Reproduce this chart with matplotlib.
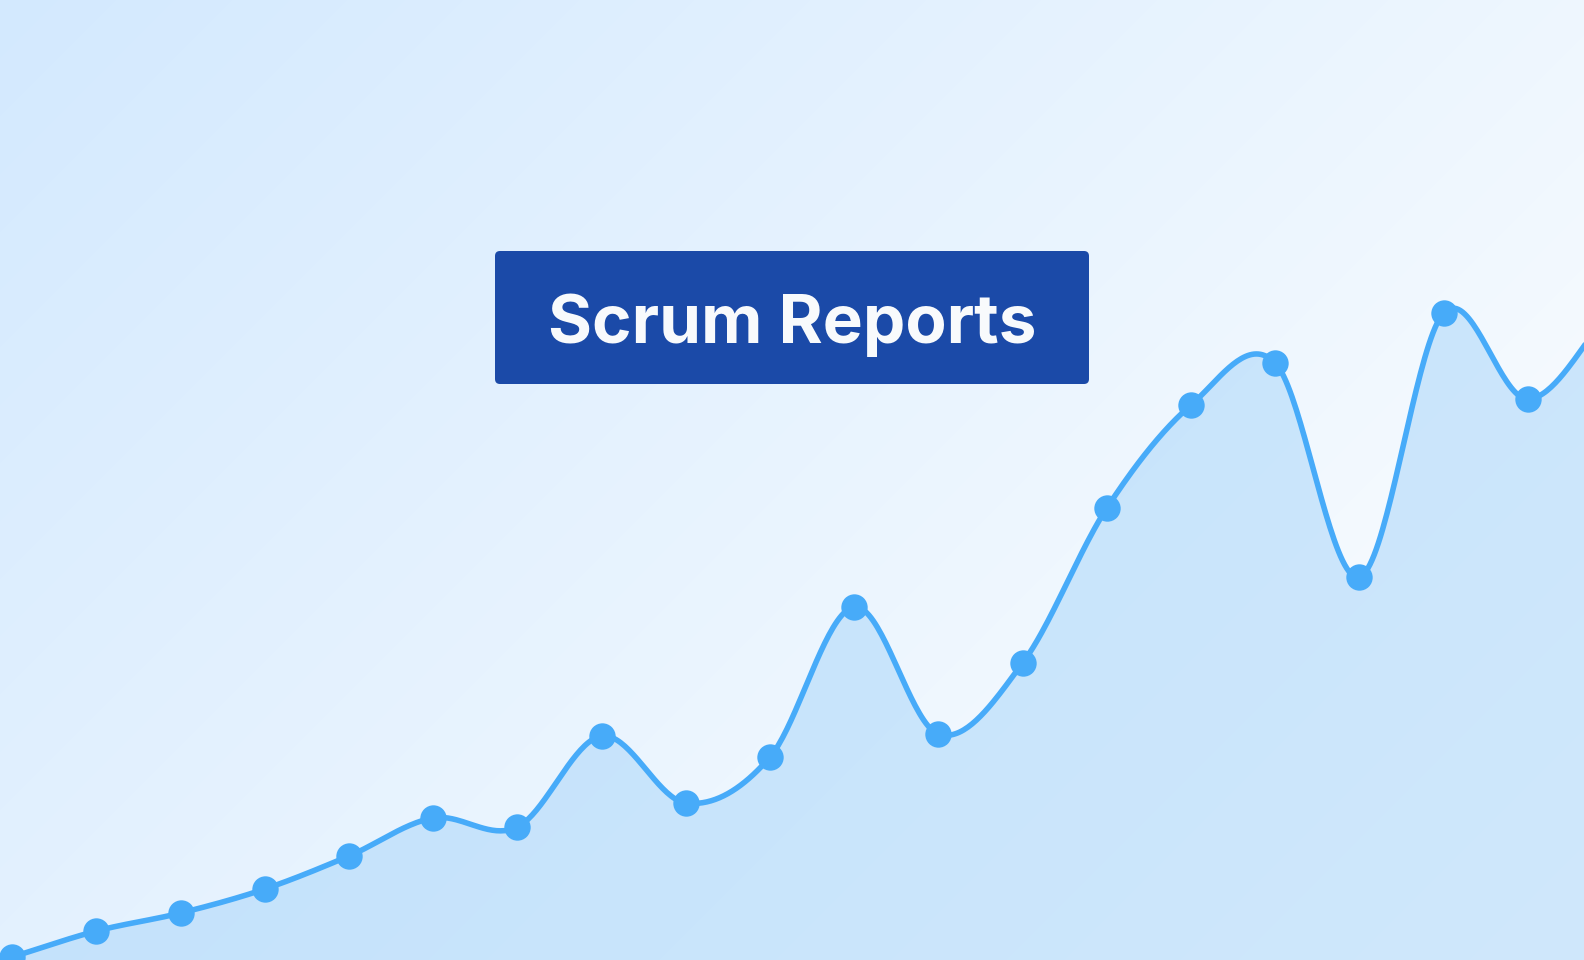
import numpy as np
import matplotlib.pyplot as plt
from matplotlib.patches import FancyBboxPatch

# sprint-by-sprint values (last one runs off the right edge)
sprints = list(range(20))
values = [3, 29, 47, 71, 104, 142, 133, 224, 157, 203,
          353, 226, 297, 452, 555, 597, 383, 647, 561, 650]
title = "Scrum Reports"

W, H = 1584, 960
line_color = "#47abf9"
fill_color = "#aed8fa"
box_color = "#1b4aa8"


def catmull_rom(x, y, steps=40):
    # smooth curve through the points (tension 0.5), like the chart library does
    x = np.asarray(x, float)
    y = np.asarray(y, float)
    m = np.empty_like(y)
    m[1:-1] = (y[2:] - y[:-2]) / 2
    m[0] = y[1] - y[0]
    m[-1] = y[-1] - y[-2]
    xs, ys = [], []
    for i in range(len(x) - 1):
        t = np.linspace(0, 1, steps, endpoint=False)
        h00 = 2 * t**3 - 3 * t**2 + 1
        h10 = t**3 - 2 * t**2 + t
        h01 = -2 * t**3 + 3 * t**2
        h11 = t**3 - t**2
        xs.append(x[i] + t * (x[i + 1] - x[i]))
        ys.append(h00 * y[i] + h10 * m[i] + h01 * y[i + 1] + h11 * m[i + 1])
    xs.append([x[-1]])
    ys.append([y[-1]])
    return np.concatenate(xs), np.concatenate(ys)


fig = plt.figure(figsize=(W / 100, H / 100), dpi=100)
ax = fig.add_axes([0, 0, 1, 1])
x0, x1 = -0.145, 18.667
ax.set_xlim(x0, x1)
ax.set_ylim(0, H)
ax.axis("off")

# diagonal background gradient
gx, gy = np.meshgrid(np.arange(W), np.arange(H))
t = (gx + gy) / (W + H)
c0 = np.array([0xd3, 0xe9, 0xfe]) / 255
c1 = np.array([0xff, 0xff, 0xff]) / 255
grad = c0[None, None, :] * (1 - t[..., None]) + c1[None, None, :] * t[..., None]
ax.imshow(grad, extent=(x0, x1, 0, H), aspect="auto", zorder=0, origin="upper")

cx, cy = catmull_rom(sprints, values)
ax.fill_between(cx, cy, 0, color=fill_color, alpha=0.58, lw=0, zorder=1)
ax.plot(cx, cy, color=line_color, lw=4, solid_capstyle="round", zorder=2)
ax.plot(sprints, values, "o", color=line_color, ms=19, mec="none", zorder=3)

# title badge, in pixel coordinates
ov = fig.add_axes([0, 0, 1, 1])
ov.set_xlim(0, W)
ov.set_ylim(H, 0)
ov.axis("off")
ov.patch.set_alpha(0)
box = FancyBboxPatch((495, 251), 594, 133,
                     boxstyle="round,pad=0,rounding_size=5",
                     fc=box_color, ec="none", zorder=5)
ov.add_patch(box)
ov.text(792, 318, title, color="#f8fafc", fontsize=48.5, fontweight="bold",
        family=["Inter", "DejaVu Sans"], ha="center", va="center_baseline",
        zorder=6)

fig.savefig("out.png", dpi=100)
